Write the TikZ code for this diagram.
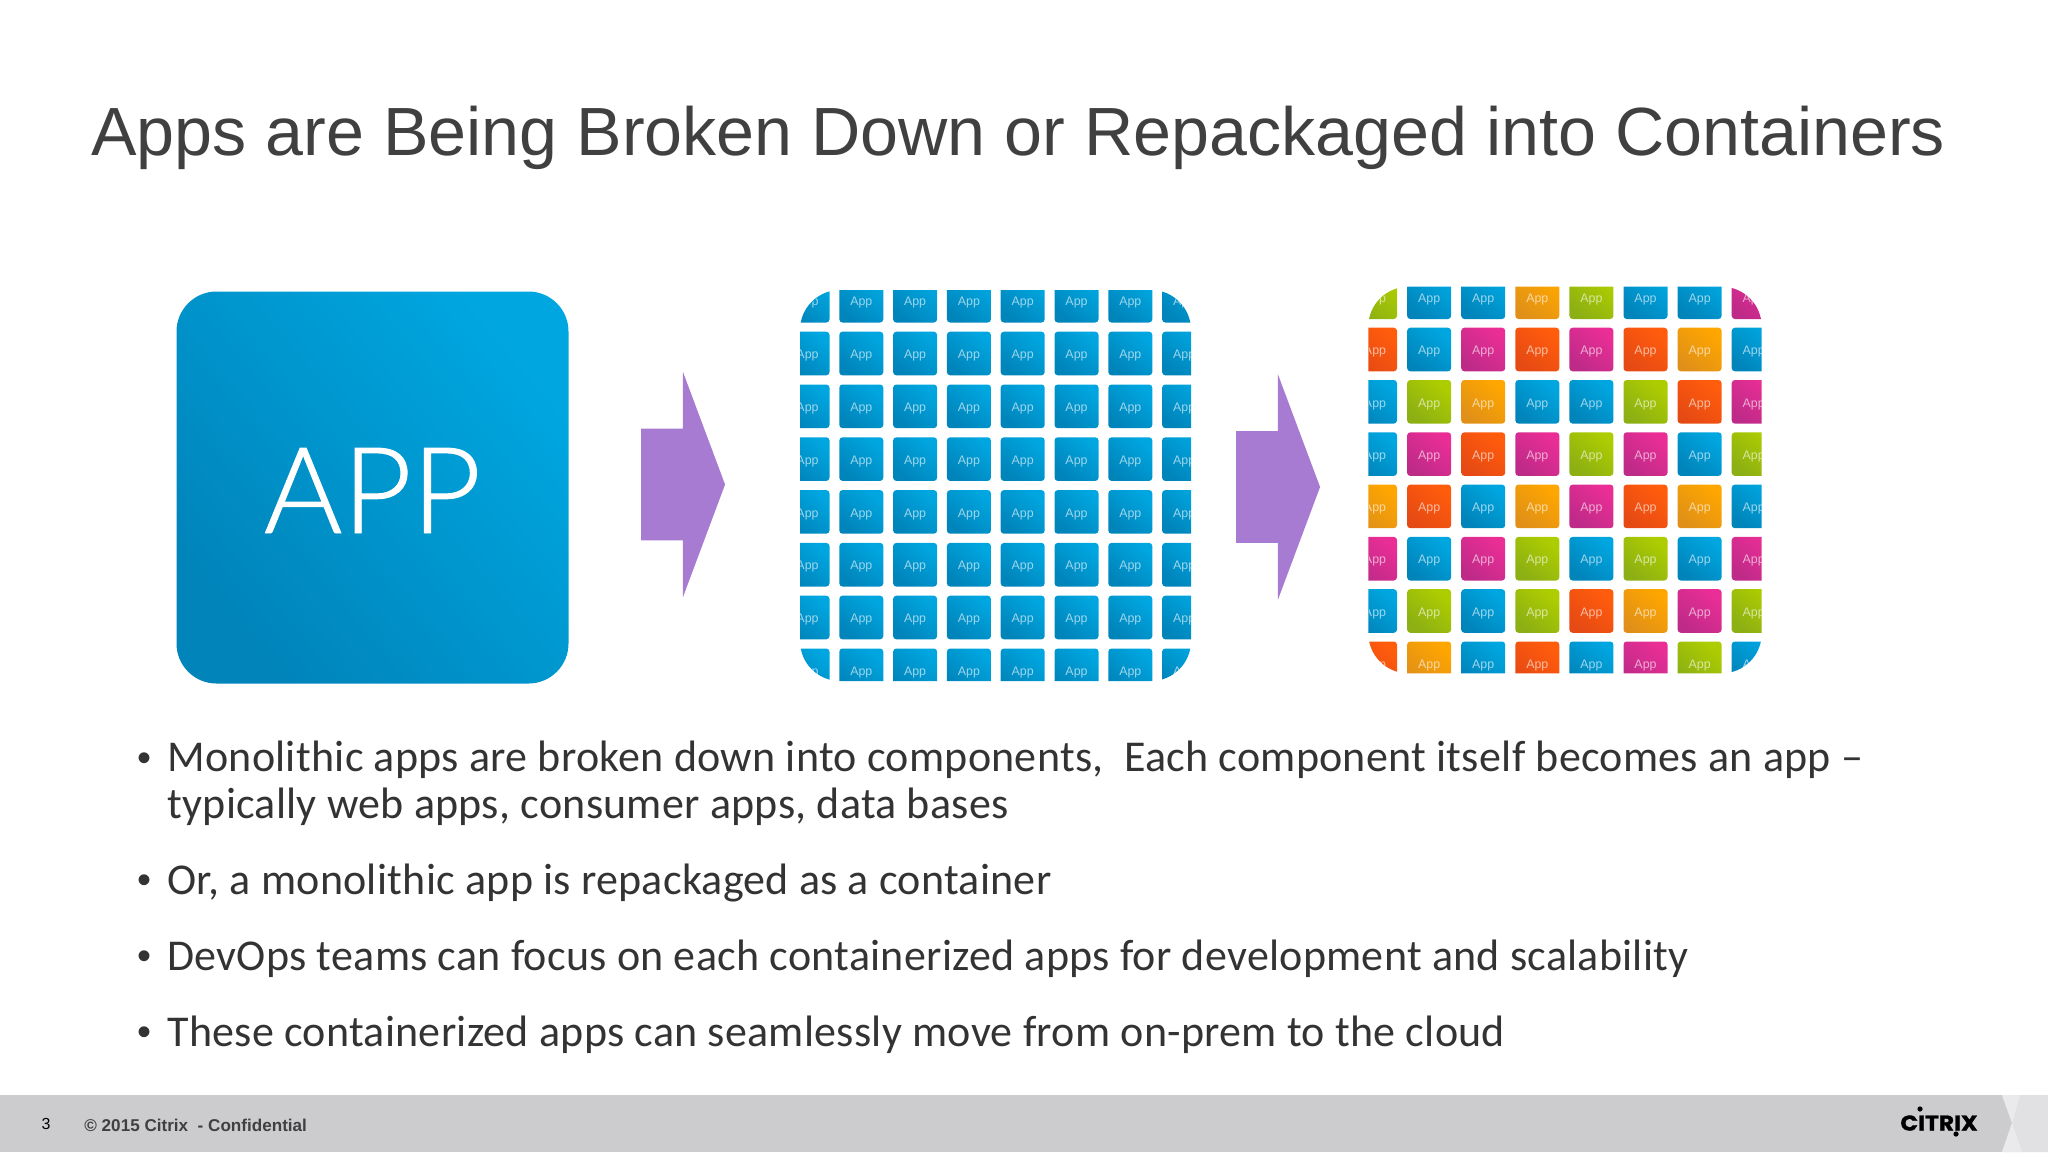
\documentclass[tikz,border=0pt]{standalone}
\usepackage{fontspec}
\usepackage{xcolor}
\usepackage{tikz}
\usetikzlibrary{shapes.arrows, positioning}
\setmainfont{Liberation Sans}
\newfontfamily\bodyfont[LetterSpace=0.65]{Carlito}
\newfontfamily\bigfont[UprightFont=* Light, UprightFeatures={FakeBold=0.8}]{Lato}
\newfontfamily\logofont[BoldFeatures={FakeBold=1.2,FakeStretch=1.09}]{Poppins}
\definecolor{titlegrey}{HTML}{404040}
\definecolor{bodygrey}{HTML}{333333}
\definecolor{footgrey}{HTML}{CCCCCF}
\definecolor{footpale}{HTML}{E1E1E4}
\definecolor{footglow}{HTML}{EAEAEC}
\definecolor{footink}{HTML}{404040}
\definecolor{purplearr}{HTML}{A87BD3}
\definecolor{bluetop}{HTML}{00A6E0}
\definecolor{bluebot}{HTML}{0084BA}
\definecolor{greentop}{HTML}{AECD00}
\definecolor{greenbot}{HTML}{8CAF14}
\definecolor{ambertop}{HTML}{FFA600}
\definecolor{amberbot}{HTML}{E09018}
\definecolor{redtop}{HTML}{FF5C0C}
\definecolor{redbot}{HTML}{E64A14}
\definecolor{pinktop}{HTML}{EA2E96}
\definecolor{pinkbot}{HTML}{BE2A88}
\tikzset{
    tile/.style={rectangle, rounded corners=1.6pt, minimum width=22pt, minimum height=21.8pt,
                 inner sep=0pt, text=white, text opacity=0.62, font=\fontsize{6.2}{7}\selectfont,
                 text height=6.5pt, text depth=1.3pt},
    blue/.style={tile, top color=bluetop, bottom color=bluebot, shading angle=-40},
    green/.style={tile, top color=greentop, bottom color=greenbot, shading angle=-40},
    amber/.style={tile, top color=ambertop, bottom color=amberbot, shading angle=-40},
    red/.style={tile, top color=redtop, bottom color=redbot, shading angle=-40},
    pink/.style={tile, top color=pinktop, bottom color=pinkbot, shading angle=-40},
    bigapp/.style={rectangle, rounded corners=20pt, minimum size=196pt, inner sep=0pt,
                   top color=bluetop, bottom color=bluebot, shading angle=-50,
                   text=white, font=\bigfont\fontsize{60}{62}\selectfont},
    blockarr/.style={single arrow, fill=purplearr, inner xsep=0pt, inner ysep=27.75pt,
                     minimum height=42pt, single arrow head extend=28.5pt,
                     single arrow tip angle=139, single arrow head indent=0pt},
    point/.style={font=\bodyfont\fontsize{22}{23.4}\selectfont, text=bodygrey, align=left,
                  inner sep=0pt, anchor=north west},
    bulletmark/.style={inner sep=0pt, font=\fontsize{20}{20}\selectfont, text=bodygrey},
    logodot/.style={circle, fill=black, inner sep=0pt, minimum size=2.6pt},
}

\begin{document}
\begin{tikzpicture}[x=0.5pt, y=-0.5pt, node distance=18.6pt]

  \useasboundingbox (0,0) rectangle (2048,1152);

  \node[anchor=base west, inner sep=0pt, text=titlegrey, font=\fontsize{34.1}{40}\selectfont] (title)
        at (91,155) {Apps are Being Broken Down or Repackaged into Containers};

  \node[bigapp] (app) at (372.5,487.5) {\raisebox{-22.75pt}[0pt][0pt]{APP}};
  \node[blockarr] (split) at (672.6,484.5) {};
  \node[blockarr] (pack) at (1267.6,487) {};

  % blue grid
  \begin{scope}
    \clip[rounded corners=20pt] (800,290) rectangle (1191,681);
    \foreach \r in {0,...,7}
      \foreach \c in {0,...,7}
        \node[blue] (plain-\r-\c) at ({807.5+53.8*\c},{300.7+52.8*\r}) {App};
  \end{scope}

  % mixed grid
  \begin{scope}
    \clip[rounded corners=20pt] (1368.3,286.7) rectangle (1761.7,673.3);
    \foreach \tones [count=\r from 0] in {
        {green,blue,blue,amber,green,blue,blue,pink},
        {red,blue,pink,red,pink,red,amber,blue},
        {blue,green,amber,blue,blue,green,red,pink},
        {blue,pink,red,pink,green,pink,blue,green},
        {amber,red,blue,amber,pink,red,amber,blue},
        {pink,blue,pink,green,blue,green,blue,pink},
        {blue,green,blue,green,red,amber,pink,green},
        {red,amber,blue,red,blue,pink,green,blue}}
      \foreach \tone [count=\c from 0] in \tones
        \node[\tone] (mixed-\r-\c) at ({1375+54.1*\c},{297.2+52.3*\r}) {App};
  \end{scope}

  \node[point] (first) at (167,741)
        {Monolithic apps are broken down into components,~ Each component itself becomes an app –\\typically web apps, consumer apps, data bases};
  \node[point, below=of first.south west, anchor=north west] (second)
        {Or, a monolithic app is repackaged as a container};
  \node[point, below=of second.south west, anchor=north west] (third)
        {DevOps teams can focus on each containerized apps for development and scalability};
  \node[point, below=of third.south west, anchor=north west] (fourth)
        {These containerized apps can seamlessly move from on-prem to the cloud};
  \foreach \item in {first,second,third,fourth}
    \node[bulletmark] (mark-\item) at ([xshift=-11.5pt,yshift=-10.5pt]\item.north west) {•};

  % footer band
  \fill[footgrey] (0,1095) rectangle (2048,1152);
  \fill[footpale] (2002,1095) -- (2012,1123) -- (2002,1152) -- (2048,1152) -- (2048,1095) -- cycle;
  \fill[footglow] (2002,1095) -- (2012,1123) -- (2020,1095) -- cycle;
  \fill[footglow] (2002,1152) -- (2012,1123) -- (2022,1152) -- cycle;
  \node[inner sep=0pt, text=black, font=\fontsize{8}{10}\selectfont] (page) at (46,1124) {3};
  \node[anchor=west, inner sep=0pt, text=footink, font=\bfseries\fontsize{8.55}{11}\selectfont] (copy)
        at (84,1125) {© 2015 Citrix ~- Confidential};
  \node[inner sep=0pt, text=black, font=\logofont\bfseries\fontsize{10.7}{12}\selectfont] (logo) at (1939,1123) {CITRIX};
  \node[logodot] (topdot) at (1920,1109) {};
  \node[logodot] (lowdot) at (1956,1134) {};
\end{tikzpicture}
\end{document}
